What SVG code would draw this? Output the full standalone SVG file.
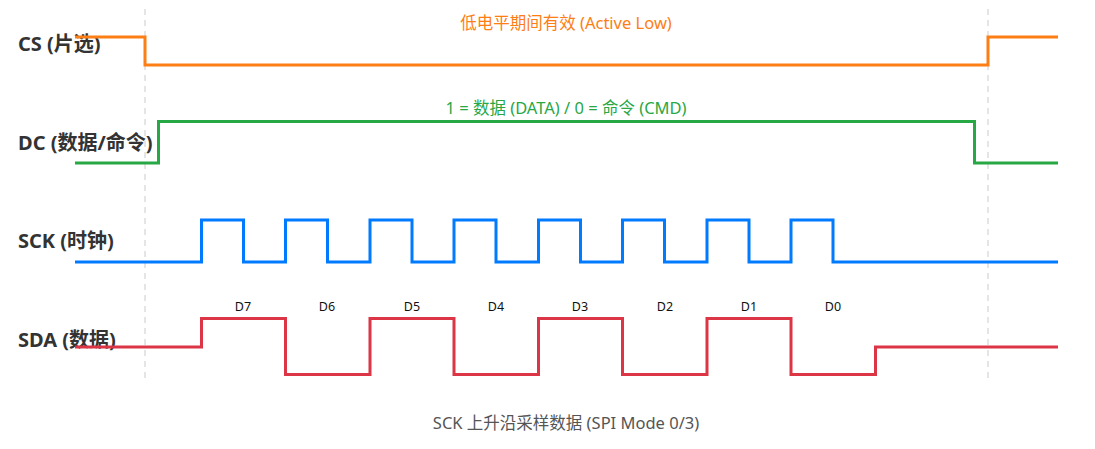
<svg xmlns="http://www.w3.org/2000/svg" width="1095" height="449" viewBox="0 0 1095 449">
<style>
.lbl{font-family:"Noto Sans","Noto Sans CJK SC",sans-serif;font-size:20px;font-weight:bold;fill:#333}
.note{font-family:"Noto Sans","Noto Sans CJK SC",sans-serif;font-size:16.5px;text-anchor:middle}
.bit{font-family:"Noto Sans","Liberation Sans",sans-serif;font-size:12.5px;fill:#111;text-anchor:middle}
.sig{fill:none;stroke-width:3;stroke-linejoin:miter}
.guide{stroke:#ddd;stroke-width:1.5;stroke-dasharray:6 5}
</style>
<rect width="1095" height="449" fill="#fff"/>
<g id="guides">
<line class="guide" x1="145" y1="9" x2="145" y2="378"/>
<line class="guide" x1="988" y1="9" x2="988" y2="378"/>
</g>
<g id="cs">
<text class="lbl" x="18" y="51">CS (片选)</text>
<text class="note" x="566" y="29" fill="#fd7e14">低电平期间有效 (Active Low)</text>
</g>
<g id="dc">
<text class="lbl" x="18" y="150">DC (数据/命令)</text>
<text class="note" x="566" y="114" fill="#28a745">1 = 数据 (DATA) / 0 = 命令 (CMD)</text>
</g>
<g id="sck">
<text class="lbl" x="18" y="248">SCK (时钟)</text>
</g>
<g id="sda">
<text class="lbl" x="18" y="347">SDA (数据)</text>
<text class="bit" x="243" y="311">D7</text>
<text class="bit" x="327" y="311">D6</text>
<text class="bit" x="412" y="311">D5</text>
<text class="bit" x="496" y="311">D4</text>
<text class="bit" x="580" y="311">D3</text>
<text class="bit" x="665" y="311">D2</text>
<text class="bit" x="749" y="311">D1</text>
<text class="bit" x="833" y="311">D0</text>
</g>
<g id="connectors">
<path class="sig" stroke="#fd7e14" d="M75 37H145V65H988V37H1058"/>
<path class="sig" stroke="#28a745" d="M75 163H158.5V121.5H974.5V163H1058"/>
<path class="sig" stroke="#007bff" d="M75 262H201.5V220H243.5V262H285.5V220H327.5V262H370V220H412V262H454V220H496V262H538.5V220H580.5V262H622.5V220H664.5V262H707V220H749V262H791V220H833V262H1058"/>
<path class="sig" stroke="#dc3545" d="M75 347H201.5V318.5H285.5V374.5H370V318.5H454V374.5H538.5V318.5H622.5V374.5H707V318.5H791V374.5H875.5V347H1058"/>
</g>
<g id="caption">
<text class="note" x="566" y="429" fill="#555">SCK 上升沿采样数据 (SPI Mode 0/3)</text>
</g>
</svg>
